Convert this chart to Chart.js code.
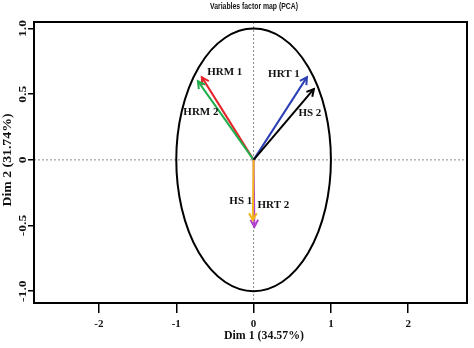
<!DOCTYPE html>
<html>
<head>
<meta charset="utf-8">
<script src="https://cdn.jsdelivr.net/npm/chart.js@4.4.1/dist/chart.umd.min.js"></script>
<style>
  body { margin: 0; background: #fff; }
  #wrap { width: 474px; height: 348px; position: relative; }
</style>
</head>
<body>
<div id="wrap"><canvas id="pca"></canvas></div>
<script>
// variables and their coordinates on the factor map
const variables = ["HRM 1", "HRM 2", "HRT 1", "HS 2", "HRT 2", "HS 1"];
const dim1 = [-0.67, -0.72, 0.69, 0.78, 0.01, -0.01];
const dim2 = [0.63, 0.60, 0.63, 0.54, -0.51, -0.46];
const arrowColors = ["#e5232b", "#1fae4b", "#2b3eb5", "#000000", "#b23fd0", "#f2b51c"];
// label offset from arrow tip (px)
const labelShift = [[23, -5], [3, 31], [-23, -3], [-4, 24], [19, -22], [-12, -19]];

const xTicks = [-2, -1, 0, 1, 2];
const yTicks = [-1, -0.5, 0, 0.5, 1];
const yTickLabels = ["-1.0", "-0.5", "0", "0.5", "1.0"];

const serif = "'Liberation Serif', 'Times New Roman', serif";

const datasets = variables.map((v, i) => ({
  label: v,
  data: [{x: 0, y: 0}, {x: dim1[i], y: dim2[i]}],
  showLine: true,
  borderColor: arrowColors[i],
  borderWidth: 2,
  pointRadius: 0,
  order: variables.length - i
}));

// text squeezed or stretched to a given length
function fitText(ctx, txt, cx, cy, len, rot) {
  ctx.save();
  ctx.translate(cx, cy);
  if (rot) ctx.rotate(-Math.PI / 2);
  ctx.scale(len / ctx.measureText(txt).width, 1);
  ctx.fillText(txt, 0, 0);
  ctx.restore();
}

const extras = {
  id: "extras",
  beforeDatasetsDraw(chart) {
    const {ctx, chartArea: a, scales: {x, y}} = chart;
    ctx.save();
    // dotted zero lines
    ctx.strokeStyle = "#8a8a8a";
    ctx.lineWidth = 1;
    ctx.setLineDash([2, 2]);
    ctx.beginPath();
    ctx.moveTo(a.left, y.getPixelForValue(0));
    ctx.lineTo(a.right, y.getPixelForValue(0));
    ctx.moveTo(x.getPixelForValue(0), a.top);
    ctx.lineTo(x.getPixelForValue(0), a.bottom);
    ctx.stroke();
    ctx.setLineDash([]);
    // correlation circle
    const cx = x.getPixelForValue(0), cy = y.getPixelForValue(0);
    ctx.strokeStyle = "#000";
    ctx.lineWidth = 2;
    ctx.beginPath();
    ctx.ellipse(cx, cy, x.getPixelForValue(1) - cx, cy - y.getPixelForValue(1), 0, 0, Math.PI * 2);
    ctx.stroke();
    ctx.restore();
  },
  afterDatasetDraw(chart, args) {
    const i = args.index;
    const {ctx, scales: {x, y}} = chart;
    const x0 = x.getPixelForValue(0), y0 = y.getPixelForValue(0);
    const x1 = x.getPixelForValue(dim1[i]), y1 = y.getPixelForValue(dim2[i]);
    const ang = Math.atan2(y1 - y0, x1 - x0);
    const len = 8, spread = 0.5;
    ctx.save();
    ctx.strokeStyle = arrowColors[i];
    ctx.lineWidth = 2;
    ctx.beginPath();
    ctx.moveTo(x1 - len * Math.cos(ang - spread), y1 - len * Math.sin(ang - spread));
    ctx.lineTo(x1, y1);
    ctx.lineTo(x1 - len * Math.cos(ang + spread), y1 - len * Math.sin(ang + spread));
    ctx.stroke();
    ctx.restore();
  },
  afterDraw(chart) {
    const {ctx, chartArea: a, scales: {x, y}} = chart;
    ctx.save();
    // box
    ctx.strokeStyle = "#000";
    ctx.lineWidth = 2;
    ctx.strokeRect(a.left, a.top, a.right - a.left, a.bottom - a.top);
    // arrow labels
    ctx.fillStyle = "#111";
    ctx.font = "bold 11px " + serif;
    ctx.textAlign = "center";
    ctx.textBaseline = "middle";
    variables.forEach((v, i) => {
      ctx.fillText(v, x.getPixelForValue(dim1[i]) + labelShift[i][0], y.getPixelForValue(dim2[i]) + labelShift[i][1]);
    });
    // y tick labels, rotated like R
    ctx.font = "bold 10.5px " + serif;
    yTicks.forEach((t, k) => {
      const s = yTickLabels[k];
      fitText(ctx, s, 23, y.getPixelForValue(t), ctx.measureText(s).width * 1.3, true);
    });
    // axis titles
    ctx.font = "bold 12px " + serif;
    fitText(ctx, "Dim 1 (34.57%)", 264, 336, 80, false);
    fitText(ctx, "Dim 2 (31.74%)", 8, 160, 93, true);
    // title, condensed
    ctx.font = "bold 9.5px 'Liberation Sans', Arial, sans-serif";
    fitText(ctx, "Variables factor map (PCA)", 254, 6, 88, false);
    ctx.restore();
  }
};

new Chart(document.getElementById("pca"), {
  type: "scatter",
  data: { datasets },
  options: {
    responsive: true,
    maintainAspectRatio: false,
    animation: false,
    layout: { padding: { top: 22, right: 7, left: 0, bottom: 0 } },
    plugins: { legend: { display: false }, tooltip: { enabled: false } },
    scales: {
      x: {
        min: -2.84, max: 2.76,
        afterFit: s => { s.height = 45; },
        afterBuildTicks: s => { s.ticks = xTicks.map(v => ({value: v})); },
        grid: { drawOnChartArea: false, color: "#000", lineWidth: 1.5, tickLength: 10 },
        border: { color: "#000", width: 2 },
        ticks: { color: "#111", padding: 5, font: { family: serif, weight: "bold", size: 11 },
                 maxRotation: 0, callback: v => String(v) }
      },
      y: {
        min: -1.09, max: 1.05,
        afterFit: s => { s.width = 34; },
        afterBuildTicks: s => { s.ticks = yTicks.map(v => ({value: v})); },
        grid: { drawOnChartArea: false, color: "#000", lineWidth: 1.5, tickLength: 6 },
        border: { color: "#000", width: 2 },
        ticks: { display: false }
      }
    }
  },
  plugins: [extras]
});
</script>
</body>
</html>
